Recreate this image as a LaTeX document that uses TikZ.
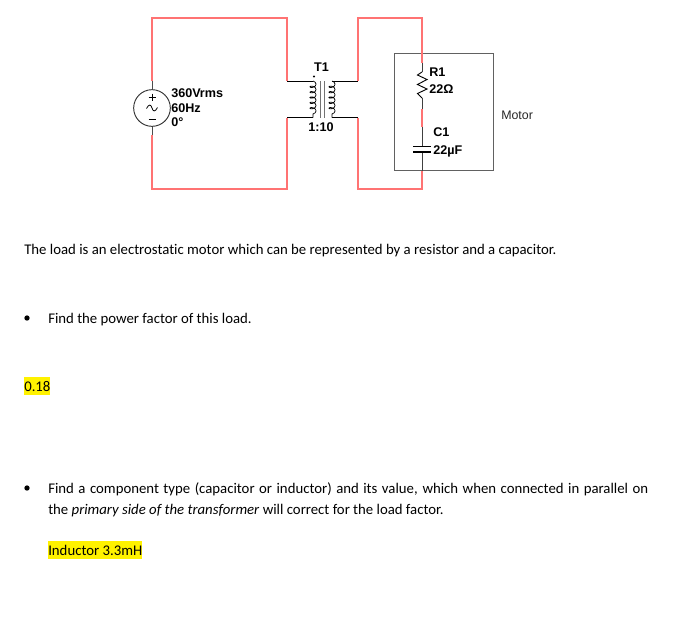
\documentclass[tikz,border=0pt]{standalone}
\usepackage{fontspec}
\setmainfont[Ligatures=NoCommon]{Carlito}
\newfontfamily\arialfont{Liberation Sans}
\usetikzlibrary{decorations.pathmorphing}
\tikzset{
  x=0.75pt,y=-0.75pt,
  redwire/.style={draw=red!55!white,line width=0.95pt},
  blackwire/.style={draw=black,line width=0.75pt},
  grayboxline/.style={draw=black!62,line width=0.85pt},
  corelines/.style={draw=black!55,line width=1.4pt},
  partlabel/.style={inner sep=0pt,anchor=base west,font=\arialfont\bfseries\fontsize{9.45}{11}\selectfont,text=black},
  partlabelc/.style={partlabel,anchor=base},
  notelabel/.style={inner sep=0pt,anchor=base west,font=\arialfont\fontsize{9.3}{11}\selectfont,text=black!85},
  bodytext/.style={inner sep=0pt,anchor=base west,font=\fontsize{11.08}{13}\selectfont,text=black},
  marker/.style={bodytext,fill=yellow,text height=10.5pt,text depth=3pt},
  bulletdot/.style={circle,fill=black,inner sep=0pt,minimum size=4pt},
  coilline/.style={draw=black,line width=0.55pt,decorate,decoration={coil,aspect=0.6,amplitude=2.3pt,segment length=4pt}},
  sourcecircle/.style={circle,draw=black!80,line width=0.7pt,fill=white,inner sep=0pt,minimum size=27.5pt},
}
\begin{document}
\begin{tikzpicture}
\useasboundingbox (0,0) rectangle (687,637);
% anchor coordinates
\coordinate (stop) at (152,81);
\coordinate (sbot) at (152,135);
\coordinate (ptl) at (152,18);
\coordinate (ptr) at (287,18);
\coordinate (pbl) at (152,189);
\coordinate (pbr) at (287,189);
\coordinate (pu) at (287,81);
\coordinate (pd) at (287,117.5);
\coordinate (cpu) at (313,81);
\coordinate (cpd) at (313,117.5);
\coordinate (csu) at (332,81);
\coordinate (csd) at (332,117.5);
\coordinate (su) at (358,81);
\coordinate (sd) at (358,117.5);
\coordinate (stl) at (358,18);
\coordinate (str) at (422,18);
\coordinate (sbl) at (358,189);
\coordinate (sbr) at (422,189);
\coordinate (rtop) at (422,63);
\coordinate (rz1) at (422,72);
\coordinate (rz2) at (422,98);
\coordinate (rbot) at (422,109);
\coordinate (ctop) at (422,127);
\coordinate (cp1) at (422,146.5);
\coordinate (cp2) at (422,152);
\coordinate (cbot) at (422,171);
% motor box
\node[grayboxline,rectangle,inner sep=0pt,minimum width=74.25pt,minimum height=87.75pt,anchor=north west] (motorbox) at (394,53) {};
% red wires
\draw[redwire] (stop) -- (ptl) -- (ptr) -- (pu);
\draw[redwire] (sbot) -- (pbl) -- (pbr) -- (pd);
\draw[redwire] (su) -- (stl) -- (str) -- (rtop);
\draw[redwire] (sd) -- (sbl) -- (sbr) -- (cbot);
\draw[redwire] (rbot) -- (ctop);
% source
\draw[draw=black!70,line width=0.7pt] (stop) -- (sbot);
\node[sourcecircle] (src) at (152,108) {};
\draw[line width=0.6pt] (148.5,97) -- (155.5,97) (152,93.5) -- (152,100.5);
\draw[line width=0.6pt] (148.5,119.5) -- (155.5,119.5);
\draw[line width=0.6pt] (146.5,108.5) .. controls (149,103.5) and (151,104.5) .. (152,108) .. controls (153,111.5) and (155,112.5) .. (157.5,107.5);
% transformer
\draw[blackwire] (pu) -- (cpu);
\draw[blackwire] (pd) -- (cpd);
\draw[blackwire] (csu) -- (su);
\draw[blackwire] (csd) -- (sd);
\draw[coilline] (cpu) -- (cpd);
\draw[coilline] (csu) -- (csd);
\draw[corelines] (320.5,81) -- (320.5,117.5);
\draw[corelines] (324.5,81) -- (324.5,117.5);
\node[circle,fill=black,inner sep=0pt,minimum size=1.6pt] (tdot) at (314,76.5) {};
% resistor
\draw[draw=black!75,line width=0.75pt] (rtop) -- (rz1);
\draw[draw=black!75,line width=0.75pt] (rz2) -- (rbot);
\draw[draw=black,line width=0.7pt,line join=miter] (rz1) -- (417.5,75) -- (427,79.5) -- (417.5,84.5) -- (427,89) -- (417.5,93.5) -- (422,98);
% capacitor
\draw[draw=black!75,line width=0.75pt] (ctop) -- (cp1);
\draw[draw=black!75,line width=0.75pt] (cp2) -- (cbot);
\draw[line width=1.1pt] (413,146.5) -- (431,146.5);
\draw[line width=1.1pt] (413,152) -- (431,152);
% labels
\node[partlabel] (l1) at (171,97) {360Vrms};
\node[partlabel] (l2) at (171,112) {60Hz};
\node[partlabel] (l3) at (171,126) {0°};
\node[partlabelc] (t1) at (321.5,71) {T1};
\node[partlabelc] (ratio) at (321,131) {1:10};
\node[partlabel] (r1) at (429,76) {R1};
\node[partlabel] (r1v) at (429,93) {22Ω};
\node[partlabel] (c1) at (433,136) {C1};
\node[partlabel] (c1v) at (433,154) {22µF};
\node[notelabel] (motor) at (501,119) {Motor};
% text
\node[bodytext] (para) at (24,254) {The load is an electrostatic motor which can be represented by a resistor and a capacitor.};
\node[bulletdot] (b1) at (27,318) {};
\node[bodytext] (q1) at (48,323) {Find the power factor of this load.};
\node[marker] (a1) at (24,391) {0.18};
\node[bulletdot] (b2) at (27,488) {};
\node[bodytext] (q2a) at (48,493) {\hbox to 450pt{Find a component type (capacitor or inductor) and its value, which when connected in parallel on}};
\node[bodytext] (q2b) at (48,514) {the \textit{primary side of the transformer} will correct for the load factor.};
\node[marker] (a2) at (48,555) {Inductor 3.3mH};
\end{tikzpicture}
\end{document}
